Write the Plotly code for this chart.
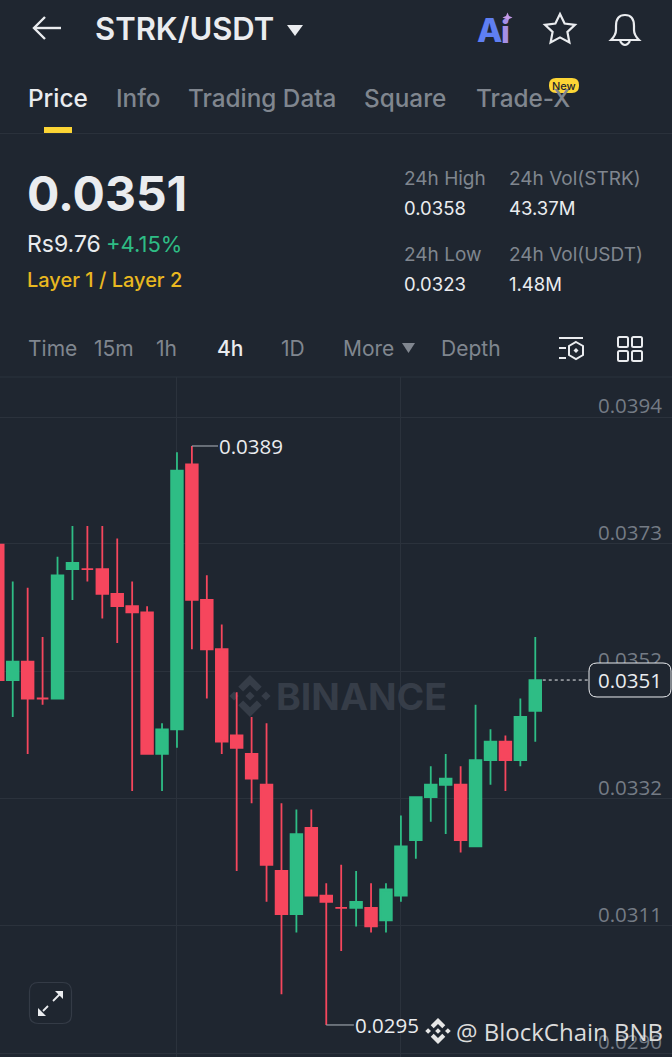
import plotly.graph_objects as go

W, H = 672, 1057
BG = '#1f2630'
GRID = '#2b323c'
GREEN = '#2EBD85'
RED = '#F6465D'
GRAY = '#80868f'
WHITE = '#eaecef'
YELLOW = '#E9B820'
UI = 'Inter'
NUM = 'Open Sans'

# Candles, oldest first (4h)
opens = [0.0373, 0.0351, 0.0354, 0.0348, 0.0348, 0.0369, 0.0369, 0.0369, 0.0365, 0.0363,
         0.0362, 0.0339, 0.0343, 0.0386, 0.0364, 0.0356, 0.0342, 0.0339, 0.0334, 0.0320,
         0.0313, 0.0327, 0.0316, 0.0314, 0.0314, 0.0314, 0.0312, 0.0316, 0.0325, 0.0332,
         0.0334, 0.0334, 0.0324, 0.0338, 0.0341, 0.0338, 0.0346]
highs = [0.0373, 0.0367, 0.0366, 0.0358, 0.0371, 0.0376, 0.0376, 0.0376, 0.0374, 0.0367,
         0.0363, 0.0344, 0.0388, 0.0389, 0.0368, 0.0360, 0.0349, 0.0345, 0.0344, 0.0331,
         0.0330, 0.0330, 0.0318, 0.0321, 0.0320, 0.0318, 0.0318, 0.0329, 0.0332, 0.0337,
         0.0339, 0.0337, 0.0347, 0.0343, 0.0342, 0.0348, 0.0358]
lows = [0.0343, 0.0345, 0.0339, 0.0347, 0.0348, 0.0364, 0.0367, 0.0361, 0.0357, 0.0333,
        0.0339, 0.0333, 0.0340, 0.0356, 0.0348, 0.0339, 0.0320, 0.0331, 0.0315, 0.0300,
        0.0310, 0.0316, 0.0295, 0.0307, 0.0311, 0.0310, 0.0310, 0.0315, 0.0322, 0.0328,
        0.0326, 0.0323, 0.0324, 0.0334, 0.0333, 0.0337, 0.0341]
closes = [0.0351, 0.0354, 0.0348, 0.0348, 0.0368, 0.0370, 0.0369, 0.0365, 0.0363, 0.0362,
          0.0339, 0.0343, 0.0385, 0.0364, 0.0356, 0.0341, 0.0340, 0.0335, 0.0321, 0.0313,
          0.0326, 0.0316, 0.0315, 0.0314, 0.0315, 0.0311, 0.0317, 0.0324, 0.0332, 0.0334,
          0.0335, 0.0325, 0.0338, 0.0341, 0.0338, 0.0345, 0.0351]
candle_idx = list(range(len(opens)))

grid_prices = [0.03937, 0.03731, 0.03524, 0.03317, 0.03111, 0.02904]
grid_labels = ['0.0394', '0.0373', '0.0352', '0.0332', '0.0311', '0.0290']
grid_candles = [12, 27]
high_idx, high_price, high_label = 13, 0.0389, '0.0389'
low_idx, low_price, low_label = 22, 0.0295, '0.0295'
last_price, last_label = 0.0351, '0.0351'

tabs = ['Price', 'Info', 'Trading Data', 'Square', 'Trade-X']
tab_x = [29, 117, 189, 365, 477]
periods = ['Time', '15m', '1h', '4h', '1D', 'More', 'Depth']
period_x = [29, 95, 157, 218, 282, 344, 442]


def px(x, y):
    return x / W, 1 - y / H


def path(points, close=False):
    d = ''
    for i, (x, y) in enumerate(points):
        a, b = px(x, y)
        d += ('M' if i == 0 else 'L') + f'{a:.5f},{b:.5f} '
    return d + ('Z' if close else '')


def rrect(x0, y0, x1, y1, r):
    # rounded box, corners as quadratic curves
    c = lambda x, y: '{:.5f},{:.5f}'.format(*px(x, y))
    return (f'M{c(x0 + r, y0)} L{c(x1 - r, y0)} Q{c(x1, y0)} {c(x1, y0 + r)} '
            f'L{c(x1, y1 - r)} Q{c(x1, y1)} {c(x1 - r, y1)} L{c(x0 + r, y1)} '
            f'Q{c(x0, y1)} {c(x0, y1 - r)} L{c(x0, y0 + r)} Q{c(x0, y0)} {c(x0 + r, y0)} Z')


shapes = []


def draw(d, color=WHITE, width=2, fill=None, layer='above'):
    shapes.append(dict(type='path', path=d, xref='paper', yref='paper', layer=layer,
                       line=dict(color=color, width=width), fillcolor=fill))


def solid(points, color, layer='above'):
    draw(path(points, True), color=color, width=0, fill=color, layer=layer)


def diamond(cx, cy, r, color, layer='above'):
    solid([(cx, cy - r), (cx + r, cy), (cx, cy + r), (cx - r, cy)], color, layer)


def binance_logo(cx, cy, s, color, layer='above'):
    diamond(cx, cy, s * 0.22, color, layer)
    diamond(cx - s * 0.76, cy, s * 0.22, color, layer)
    diamond(cx + s * 0.76, cy, s * 0.22, color, layer)
    for sign in (-1, 1):
        solid([(cx, cy + sign * s), (cx + s * 0.56, cy + sign * s * 0.44),
               (cx + s * 0.33, cy + sign * s * 0.21), (cx, cy + sign * s * 0.54),
               (cx - s * 0.33, cy + sign * s * 0.21), (cx - s * 0.56, cy + sign * s * 0.44)],
              color, layer)


annotations = []


def label(x, y, text, size, color=WHITE, family=UI, weight=400, anchor='left', **kw):
    # annotations sit about 2px right of the asked position
    a, b = px(x - 2 if anchor == 'left' else x, y)
    annotations.append(dict(x=a, y=b, xref='paper', yref='paper', text=text, showarrow=False,
                            xanchor=anchor, yanchor='middle', borderpad=0,
                            font=dict(size=size, color=color, family=family, weight=weight), **kw))


# header
draw(path([(61, 28), (34, 28)]), width=2.4)
draw(path([(45, 17), (34, 28), (45, 39)]), width=2.4)
label(96, 29, 'STRK/USDT', 31, weight=600)
solid([(287, 25), (303, 25), (295, 36)], WHITE)
label(478, 30, 'A', 33, color='#5f7ff2', weight=800)
label(502, 31, 'i', 31, color='#a58fe6', weight=800)
solid([(507.5, 12.5), (509, 16), (512.5, 17.5), (509, 19), (507.5, 22.5), (506, 19), (502.5, 17.5), (506, 16)],
      '#c49ae8')
draw(path([(560, 14), (564.6, 23.5), (575, 24.8), (567.4, 32), (569.4, 42.5), (560, 37.4),
           (550.6, 42.5), (552.6, 32), (545, 24.8), (555.4, 23.5)], True), width=2.2)
c = lambda x, y: '{:.5f},{:.5f}'.format(*px(x, y))
draw(f'M{c(611, 40)} Q{c(616, 35)} {c(616, 30)} L{c(616, 26)} Q{c(616, 15)} {c(625, 15)} '
     f'Q{c(634, 15)} {c(634, 26)} L{c(634, 30)} Q{c(634, 35)} {c(639, 40)} Z', width=2.2)
draw(f'M{c(620, 41)} Q{c(625, 49)} {c(630, 41)}', width=2.2)

# tabs
for name, x in zip(tabs, tab_x):
    label(x, 98, name, 24.3, color=WHITE if name == 'Price' else GRAY, weight=500)
solid([(44, 127), (72, 127), (72, 133), (44, 133)], '#FCD535')
draw(rrect(549, 78, 579, 93, 7), color='#FCD535', width=0, fill='#FCD535')
label(564, 85.5, 'New', 11, color='#1f2630', anchor='center', weight=500)
draw(path([(0, 133.5), (W, 133.5)]), color=GRID, width=1)

# price block
label(28, 193, last_label, 48, weight=700)
label(28, 244, 'Rs9.76', 23)
label(107, 244, '+4.15%', 22, color=GREEN)
label(28, 280, 'Layer 1 / Layer 2', 20, color=YELLOW, weight=500)
label(405, 178, '24h High', 19, color=GRAY)
label(405, 208, '0.0358', 18.5)
label(405, 254, '24h Low', 19, color=GRAY)
label(405, 284, '0.0323', 18.5)
label(510, 178, '24h Vol(STRK)', 19, color=GRAY)
label(510, 208, '43.37M', 18.5)
label(510, 254, '24h Vol(USDT)', 19, color=GRAY)
label(510, 284, '1.48M', 18.5)

# period row
for name, x in zip(periods, period_x):
    label(x, 349, name, 21, color=WHITE if name == '4h' else GRAY, weight=500 if name == '4h' else 400)
solid([(402, 343), (415, 343), (408.5, 353)], GRAY)
draw(path([(559, 338), (583, 338)]), width=2)
draw(path([(559, 348), (566, 348)]), width=2)
draw(path([(559, 358), (566, 358)]), width=2)
draw(path([(576, 342), (583, 346), (583, 355), (576, 359), (569, 355), (569, 346)], True), width=2)
diamond(576, 350.5, 2.5, WHITE)
for x0, y0 in [(618, 337), (632, 337), (618, 351), (632, 351)]:
    draw(rrect(x0, y0, x0 + 10, y0 + 10, 1.5), width=2)
draw(path([(0, 377), (W, 377)]), color=GRID, width=1)

# chart watermark, under the candles
binance_logo(250, 696, 21, '#363d48', layer='below')
label(277, 696, 'BINANCE', 37.5, color='#363d48', weight=700)

# expand button
draw(rrect(29.5, 982.5, 71.5, 1023.5, 9), color='#343b46', width=1.2)
draw(path([(43, 1011), (48, 1006)]), width=1.8)
draw(path([(53, 1001), (60, 994)]), width=1.8)
solid([(55, 991), (63, 991), (63, 999)], WHITE)
solid([(38, 1008), (38, 1016), (46, 1016)], WHITE)

# stamp bottom right
binance_logo(438, 1031, 13, '#e6e6e6')
label(457, 1031, '@ BlockChain BNB', 24, color='#dcdcdc', family=NUM)

fig = go.Figure(go.Candlestick(
    x=candle_idx, open=opens, high=highs, low=lows, close=closes,
    increasing=dict(line=dict(color=GREEN, width=1.8), fillcolor=GREEN),
    decreasing=dict(line=dict(color=RED, width=1.8), fillcolor=RED),
    whiskerwidth=0, hoverinfo='skip', showlegend=False,
))

# high / low markers and last price line
fig.add_trace(go.Scatter(x=[high_idx, high_idx + 1.75], y=[high_price, high_price], mode='lines',
                         line=dict(color='#9aa0a8', width=1.2), hoverinfo='skip', showlegend=False))
fig.add_trace(go.Scatter(x=[low_idx, low_idx + 1.85], y=[low_price, low_price], mode='lines',
                         line=dict(color='#9aa0a8', width=1.2), hoverinfo='skip', showlegend=False))
fig.add_trace(go.Scatter(x=[candle_idx[-1] + 0.5, candle_idx[-1] + 3.7], y=[last_price, last_price], mode='lines',
                         line=dict(color=WHITE, width=1, dash='3px,3px'), hoverinfo='skip', showlegend=False))

annotations.append(dict(x=high_idx + 1.75, y=high_price, xref='x', yref='y', text=high_label, showarrow=False,
                        xanchor='left', yanchor='middle', xshift=-1, font=dict(size=20.5, color=WHITE, family=NUM)))
annotations.append(dict(x=low_idx + 1.85, y=low_price, xref='x', yref='y', text=low_label, showarrow=False,
                        xanchor='left', yanchor='middle', xshift=-1, font=dict(size=20.5, color=WHITE, family=NUM)))

# last price tag sits over the axis labels
draw(rrect(589, 663, 671, 697, 8), color=WHITE, width=1, fill=BG)
annotations.append(dict(x=630 / W, y=last_price, xref='paper', yref='y', text=last_label, showarrow=False,
                        xanchor='center', yanchor='middle', font=dict(size=20.5, color=WHITE, family=NUM)))

# axes are set so that candle 0 lands at x=-2.2 and the chart fills y=377..1057
slot = 14.93
fig.update_xaxes(range=[2.2 / slot, (W + 2.2) / slot], tickvals=grid_candles, showgrid=True, gridcolor=GRID,
                 gridwidth=1, showticklabels=False, zeroline=False, showline=False, ticks='',
                 rangeslider_visible=False, fixedrange=True)
fig.update_yaxes(domain=[0, (H - 377) / H], range=[0.02898, 0.04002], side='right', tickvals=grid_prices,
                 ticktext=grid_labels, ticklabelposition='inside top', showgrid=True, gridcolor=GRID, gridwidth=1,
                 zeroline=False, showline=False, tickfont=dict(size=20.5, color='#747b85', family=NUM),
                 ticklabelstandoff=7, ticklabelshift=3, fixedrange=True)
fig.update_layout(width=W, height=H, margin=dict(l=0, r=0, t=0, b=0, autoexpand=False), paper_bgcolor=BG,
                  plot_bgcolor=BG, showlegend=False, boxgap=0.22, boxgroupgap=0, shapes=shapes,
                  annotations=annotations)

fig.write_html('out.html', config=dict(displayModeBar=False),
               post_script="document.body.style.margin='0';document.body.style.background='#1f2630';")
